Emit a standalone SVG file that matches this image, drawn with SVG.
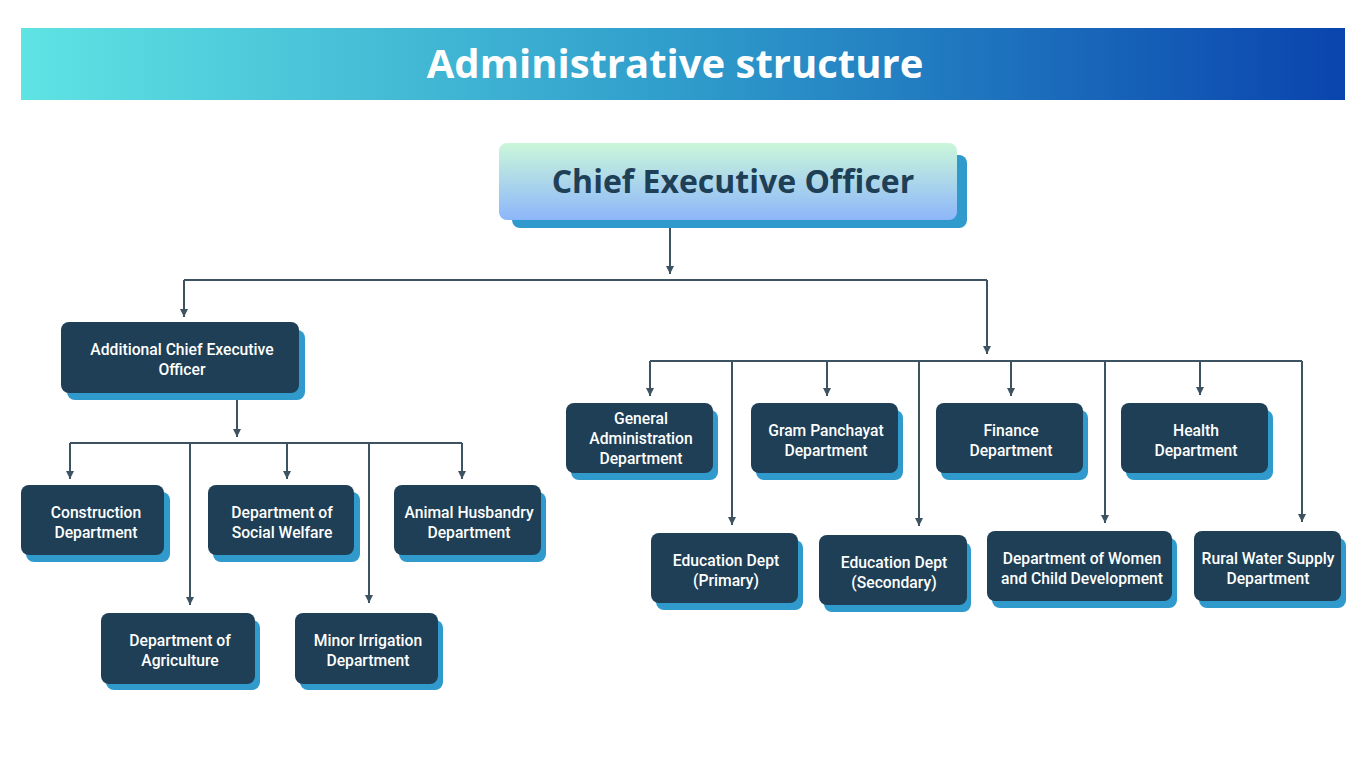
<svg xmlns="http://www.w3.org/2000/svg" width="1366" height="768" viewBox="0 0 1366 768">
<defs>
<linearGradient id="hdr" x1="0" y1="0" x2="1" y2="0">
<stop offset="0" stop-color="#5fe3e3"/>
<stop offset="0.5" stop-color="#2f9ccb"/>
<stop offset="1" stop-color="#0a44ae"/>
</linearGradient>
<linearGradient id="ceo" x1="0" y1="0" x2="0" y2="1">
<stop offset="0" stop-color="#cbf7da"/>
<stop offset="1" stop-color="#8db6fa"/>
</linearGradient>
<marker id="ar" viewBox="0 0 10 10" refX="10" refY="5" markerWidth="8" markerHeight="9" markerUnits="userSpaceOnUse" orient="auto">
<path d="M0,0 L10,5 L0,10 Z" fill="#3d5361"/>
</marker>
<style>
.sh{fill:#2f9acb}
.bx{fill:#1e3f55}
.t{font-family:Roboto,"Liberation Sans",sans-serif;font-weight:500;font-size:15.7px;fill:#ffffff;text-anchor:middle}
.ln{fill:none;stroke:#3d5361;stroke-width:2}
.ar{fill:none;stroke:#3d5361;stroke-width:2;marker-end:url(#ar)}
</style>
</defs>
<rect width="1366" height="768" fill="#ffffff"/>
<g id="header">
<rect x="21" y="28" width="1324" height="72" fill="url(#hdr)"/>
<text x="675" y="78" font-family="'Open Sans','Liberation Sans',sans-serif" font-weight="700" font-size="40" fill="#ffffff" text-anchor="middle">Administrative structure</text>
</g>
<g id="connectors">
<path class="ar" d="M670,228 V274"/>
<path class="ln" d="M184,280 H987"/>
<path class="ar" d="M184,280 V317"/>
<path class="ar" d="M987,280 V354"/>
<path class="ar" d="M237,400 V437"/>
<path class="ln" d="M70,443 H462"/>
<path class="ar" d="M70,443 V479"/>
<path class="ar" d="M190,443 V605"/>
<path class="ar" d="M287,443 V479"/>
<path class="ar" d="M369,443 V603"/>
<path class="ar" d="M462,443 V479"/>
<path class="ln" d="M650,361 H1302"/>
<path class="ar" d="M650,361 V396"/>
<path class="ar" d="M732,361 V525"/>
<path class="ar" d="M827,361 V396"/>
<path class="ar" d="M919,361 V526"/>
<path class="ar" d="M1011,361 V396"/>
<path class="ar" d="M1105,361 V523"/>
<path class="ar" d="M1200,361 V395"/>
<path class="ar" d="M1302,361 V522"/>
</g>
<g id="ceo-node">
<rect x="512" y="155" width="455" height="73" rx="8" class="sh"/>
<rect x="499" y="143" width="458" height="77" rx="8" fill="url(#ceo)"/>
<text x="733" y="193" font-family="'Open Sans','Liberation Sans',sans-serif" font-weight="700" font-size="32" fill="#1e3f55" text-anchor="middle">Chief Executive Officer</text>
</g>
<g id="aceo">
<rect x="67" y="330" width="238" height="70" rx="8" class="sh"/>
<rect x="61" y="322" width="238" height="71" rx="8" class="bx"/>
<text class="t" x="182" y="355">Additional Chief Executive</text>
<text class="t" x="182" y="375">Officer</text>
</g>
<g id="construction">
<rect x="26" y="492" width="144" height="70" rx="8" class="sh"/>
<rect x="21" y="485" width="143" height="70" rx="8" class="bx"/>
<text class="t" x="96" y="518">Construction</text>
<text class="t" x="96" y="538">Department</text>
</g>
<g id="social-welfare">
<rect x="213" y="492" width="147" height="70" rx="8" class="sh"/>
<rect x="208" y="485" width="146" height="70" rx="8" class="bx"/>
<text class="t" x="282" y="518">Department of</text>
<text class="t" x="282" y="538">Social Welfare</text>
</g>
<g id="animal-husbandry">
<rect x="399" y="492" width="147" height="70" rx="8" class="sh"/>
<rect x="394" y="485" width="147" height="70" rx="8" class="bx"/>
<text class="t" x="469" y="518">Animal Husbandry</text>
<text class="t" x="469" y="538">Department</text>
</g>
<g id="agriculture">
<rect x="106" y="620" width="154" height="70" rx="8" class="sh"/>
<rect x="101" y="613" width="154" height="71" rx="8" class="bx"/>
<text class="t" x="180" y="646">Department of</text>
<text class="t" x="180" y="666">Agriculture</text>
</g>
<g id="minor-irrigation">
<rect x="300" y="620" width="143" height="70" rx="8" class="sh"/>
<rect x="295" y="613" width="143" height="71" rx="8" class="bx"/>
<text class="t" x="368" y="646">Minor Irrigation</text>
<text class="t" x="368" y="666">Department</text>
</g>
<g id="general-admin">
<rect x="571" y="410" width="147" height="70" rx="8" class="sh"/>
<rect x="566" y="403" width="147" height="70" rx="8" class="bx"/>
<text class="t" x="641" y="424">General</text>
<text class="t" x="641" y="444">Administration</text>
<text class="t" x="641" y="464">Department</text>
</g>
<g id="gram-panchayat">
<rect x="756" y="410" width="147" height="70" rx="8" class="sh"/>
<rect x="751" y="403" width="147" height="70" rx="8" class="bx"/>
<text class="t" x="826" y="436">Gram Panchayat</text>
<text class="t" x="826" y="456">Department</text>
</g>
<g id="finance">
<rect x="941" y="410" width="147" height="70" rx="8" class="sh"/>
<rect x="936" y="403" width="147" height="70" rx="8" class="bx"/>
<text class="t" x="1011" y="436">Finance</text>
<text class="t" x="1011" y="456">Department</text>
</g>
<g id="health">
<rect x="1126" y="410" width="147" height="70" rx="8" class="sh"/>
<rect x="1121" y="403" width="147" height="70" rx="8" class="bx"/>
<text class="t" x="1196" y="436">Health</text>
<text class="t" x="1196" y="456">Department</text>
</g>
<g id="edu-primary">
<rect x="656" y="540" width="147" height="70" rx="8" class="sh"/>
<rect x="651" y="533" width="147" height="70" rx="8" class="bx"/>
<text class="t" x="726" y="566">Education Dept</text>
<text class="t" x="726" y="586">(Primary)</text>
</g>
<g id="edu-secondary">
<rect x="824" y="542" width="147" height="70" rx="8" class="sh"/>
<rect x="819" y="535" width="148" height="70" rx="8" class="bx"/>
<text class="t" x="894" y="568">Education Dept</text>
<text class="t" x="894" y="588">(Secondary)</text>
</g>
<g id="women-child">
<rect x="992" y="538" width="185" height="70" rx="8" class="sh"/>
<rect x="987" y="531" width="185" height="70" rx="8" class="bx"/>
<text class="t" x="1082" y="564">Department of Women</text>
<text class="t" x="1082" y="584">and Child Development</text>
</g>
<g id="rural-water">
<rect x="1199" y="538" width="147" height="70" rx="8" class="sh"/>
<rect x="1194" y="531" width="147" height="70" rx="8" class="bx"/>
<text class="t" x="1268" y="564">Rural Water Supply</text>
<text class="t" x="1268" y="584">Department</text>
</g>
</svg>
